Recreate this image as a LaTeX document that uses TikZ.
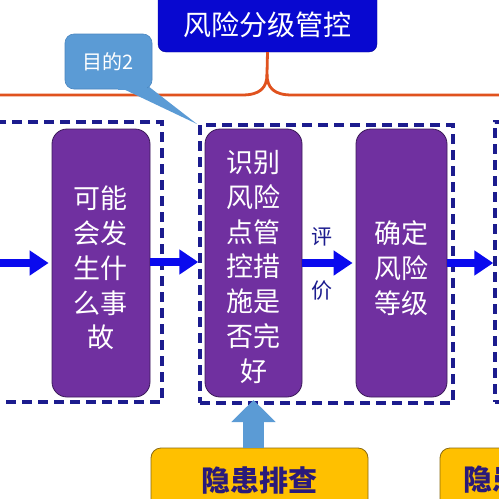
\documentclass[tikz,border=0pt]{standalone}
\usepackage{fontspec}
\setmainfont{Noto Sans CJK SC}
\usetikzlibrary{arrows.meta}
\definecolor{ttlblue}{HTML}{0808D0}
\definecolor{brc}{HTML}{E0521E}
\definecolor{calc}{HTML}{5B9BD5}
\definecolor{calb}{HTML}{4A86C0}
\definecolor{purp}{HTML}{7030A0}
\definecolor{purb}{HTML}{3C1A5A}
\definecolor{dnavy}{HTML}{1C1C8E}
\definecolor{arrb}{HTML}{0A0AEE}
\definecolor{yel}{HTML}{FFC000}
\definecolor{yelb}{HTML}{8A6A10}
\definecolor{ytext}{HTML}{2A1A7A}
\begin{document}
\begin{tikzpicture}[x=1pt,y=-1pt,
  purpbox/.style={draw=purb,line width=0.8pt,fill=purp,rounded corners=15pt,inner sep=0pt,minimum height=268pt},
  ptext/.style={text=white,align=center,font=\fontsize{27}{34.8}\selectfont},
  dashbox/.style={draw=dnavy,line width=3.4pt,dash pattern=on 10pt off 6pt,inner sep=0pt},
  flow/.style={draw=arrb,line width=8pt,-{Triangle[length=19pt,width=24pt]}},
  yelbox/.style={draw=yelb,line width=0.8pt,fill=yel,rounded corners=10pt,inner sep=0pt,minimum height=64pt,minimum width=217pt},
  ytxt/.style={text=ytext,font=\fontsize{29}{30}\selectfont\bfseries}]
\useasboundingbox (0,0) rectangle (499,499);
\clip (0,0) rectangle (499,499);
\fill[white] (0,0) rectangle (499,499);

% title
\node[fill=ttlblue,draw=ttlblue!70!black,rounded corners=8pt,minimum width=219pt,minimum height=64pt,inner sep=0pt] (title) at (267.5,20) {};
\node[text=white,font=\fontsize{28}{30}\selectfont] (ttext) at (267.5,25) {风险分级管控};

% brace
\coordinate (btip) at (267,74);
\draw[brc,line width=2.8pt] (0,95) -- (242,95) .. controls (260,95) and (267,88) .. (btip);
\draw[brc,line width=2.8pt] (499,95) -- (292,95) .. controls (274,95) and (267,88) .. (btip);
\draw[brc,line width=2.8pt] (btip) -- (title.south);

% dashed boxes
\node[dashbox,minimum width=172pt,minimum height=280pt] (d1) at (76,262) {};
\node[dashbox,minimum width=253pt,minimum height=278pt] (d2) at (326.5,264) {};
\node[dashbox,minimum width=105pt,minimum height=280pt] (d3) at (547.5,262) {};

% callout
\coordinate (ctip) at (197,124);
\fill[calc] (117,86) -- (ctip) -- (148,86) -- cycle;
\node[fill=calc,draw=calb,line width=0.6pt,rounded corners=9pt,minimum width=87pt,minimum height=55pt,inner sep=0pt] (call) at (108.5,61.5) {};
\fill[calc] (118,84) -- (147,84) -- (147,89.5) -- (118,89.5) -- cycle;
\node[text=white,font=\fontsize{20}{22}\selectfont] (ctext) at (108.5,62) {目的2};

% purple boxes
\node[purpbox,minimum width=98pt] (p1) at (101,263) {};
\node[purpbox,minimum width=97pt] (p2) at (253.5,263) {};
\node[purpbox,minimum width=91pt] (p3) at (401.5,263) {};
\node[ptext] (t1) at (101,268) {可能\\会发\\生什\\么事\\故};
\node[ptext] (t2) at (253.5,267) {识别\\风险\\点管\\控措\\施是\\否完\\好};
\node[ptext] (t3) at (401.5,268) {确定\\风险\\等级};

% flow arrows
\coordinate (start) at (0,263);
\draw[flow,shorten >=3pt] (start) -- (p1.west |- start);
\draw[flow] (p1.east |- 0,262) -- (d2.west |- 0,262);
\draw[flow,shorten >=3pt] (p2.east |- start) -- (p3.west |- start);
\draw[flow] (p3.east |- start) -- (d3.west |- start);
\node[text=dnavy,font=\fontsize{21}{22}\selectfont] (ping) at (322,237) {评};
\node[text=dnavy,font=\fontsize{21}{22}\selectfont] (jia) at (322,291) {价};

% yellow boxes
\node[yelbox] (y1) at (259.5,480) {};
\node[ytxt] (yt1) at (259.5,480) {隐患排查};
\node[yelbox] (y2) at (548.5,480) {};
\node[ytxt,anchor=west] (yt2) at (460,480) {隐患};

% up arrow
\draw[calc,line width=21pt,-{Triangle[length=22pt,width=43pt]}] (253.5,448) -- (253.5,400);
\end{tikzpicture}
\end{document}
